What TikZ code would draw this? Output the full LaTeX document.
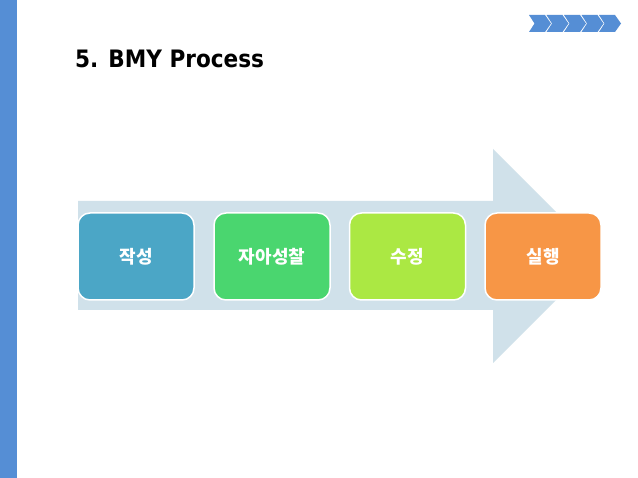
\documentclass[tikz,border=0pt]{standalone}
\usepackage{fontspec}
\setmainfont{DejaVu Sans}
\newfontfamily\titlefont{DejaVu Sans Condensed}
\newfontfamily\krfont{Noto Sans CJK KR}
\begin{document}
\begin{tikzpicture}[x=1pt,y=-1pt,
  stagebox/.style={draw=white,line width=1.5pt,rounded corners=12pt,minimum width=116pt,minimum height=87pt,inner sep=0pt,text=white,font=\krfont\bfseries\fontsize{18}{20}\selectfont},
  chev/.style={fill=barblue,draw=none}]
\definecolor{barblue}{HTML}{558ED5}
\definecolor{arrowfill}{HTML}{D0E1EA}
\definecolor{c1}{HTML}{4BA6C6}
\definecolor{c2}{HTML}{4AD66F}
\definecolor{c3}{HTML}{ABE843}
\definecolor{c4}{HTML}{F79646}
\useasboundingbox (0,0) rectangle (638,478);
\fill[white] (0,0) rectangle (638,478);
% left bar
\fill[barblue] (0,0) rectangle (17,478);
% chevrons
\foreach \i in {0,...,4}{
  \fill[chev] ({529+17.5*\i},15) -- ({545+17.5*\i},15) -- ({551+17.5*\i},23.5) -- ({545+17.5*\i},32) -- ({529+17.5*\i},32) -- ({534.5+17.5*\i},23.5) -- cycle;
}
% title
\node[anchor=base west,inner sep=0pt,font=\titlefont\bfseries\fontsize{24}{26}\selectfont] (title) at (75,67.7) {5. BMY Process};
% big arrow
\fill[arrowfill] (78,201) -- (493,201) -- (493,149) -- (600,256) -- (493,363) -- (493,310) -- (78,310) -- cycle;
% boxes
\node[stagebox,fill=c1] (s1) at (136,256.5) {작성};
\node[stagebox,fill=c2] (s2) at (272,256.5) {자아성찰};
\node[stagebox,fill=c3] (s3) at (407.5,256.5) {수정};
\node[stagebox,fill=c4] (s4) at (543,256.5) {실행};
\end{tikzpicture}
\end{document}
